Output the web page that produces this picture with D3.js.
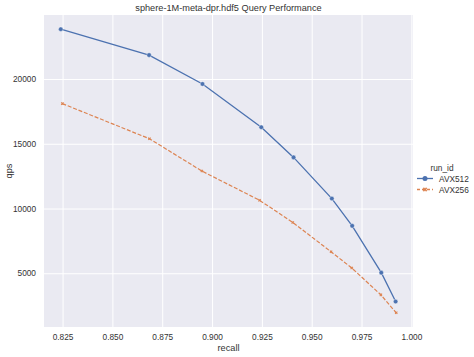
<!DOCTYPE html>
<html><head><meta charset="utf-8">
<script src="https://cdn.jsdelivr.net/npm/d3@7"></script>
<style>body{margin:0;background:#fff}text{font-family:"Liberation Sans",Arial,sans-serif}</style>
</head><body>
<svg id="c" width="474" height="357"></svg>
<script>
const seriesNames = ["AVX512", "AVX256"];
const recallAVX512 = [0.8241, 0.8684, 0.8952, 0.9247, 0.9409, 0.9601, 0.9703, 0.9849, 0.9921];
const qpsAVX512 = [23846, 21846, 19615, 16277, 13946, 10769, 8662, 5046, 2815];
const recallAVX256 = [0.8249, 0.8686, 0.8949, 0.9238, 0.9405, 0.9597, 0.9701, 0.9847, 0.9924];
const qpsAVX256 = [18100, 15385, 12892, 10638, 8923, 6662, 5408, 3331, 1946];
const xTicks = [0.825, 0.850, 0.875, 0.900, 0.925, 0.950, 0.975, 1.000];
const yTicks = [5000, 10000, 15000, 20000];
const colors = ["#4c72b0", "#dd8452"];

const svg = d3.select("#c");
const m = {l: 44, r: 413, t: 15, b: 327};
const allX = recallAVX512.concat(recallAVX256), allY = qpsAVX512.concat(qpsAVX256);
const [x0, x1] = d3.extent(allX), [y0, y1] = d3.extent(allY);
const px = (x1 - x0) * 0.05, py = (y1 - y0) * 0.05;
const x = d3.scaleLinear().domain([x0 - px, x1 + px]).range([m.l, m.r]);
const y = d3.scaleLinear().domain([y0 - py, y1 + py]).range([m.b, m.t]);

svg.append("rect").attr("x", m.l).attr("y", m.t).attr("width", m.r - m.l).attr("height", m.b - m.t).attr("fill", "#eaeaf2");
const gx = svg.append("g").attr("transform", `translate(0,${m.b})`)
  .call(d3.axisBottom(x).tickValues(xTicks).tickFormat(d3.format(".3f")).tickSize(-(m.b - m.t)).tickPadding(7));
const gy = svg.append("g").attr("transform", `translate(${m.l},0)`)
  .call(d3.axisLeft(y).tickValues(yTicks).tickFormat(d => d).tickSize(-(m.r - m.l)).tickPadding(8));
[gx, gy].forEach(g => {
  g.select(".domain").remove();
  g.selectAll(".tick line").attr("stroke", "#fff").attr("stroke-width", 1);
  g.selectAll(".tick text").attr("fill", "#333").attr("font-size", 8.3);
});

const series = [
  {name: seriesNames[0], xs: recallAVX512, ys: qpsAVX512, color: colors[0], dash: null},
  {name: seriesNames[1], xs: recallAVX256, ys: qpsAVX256, color: colors[1], dash: "4,1.8"}
];
const line = d3.line().x(d => x(d[0])).y(d => y(d[1]));
series.forEach((s, i) => {
  const pts = s.xs.map((v, k) => [v, s.ys[k]]);
  svg.append("path").datum(pts).attr("d", line).attr("fill", "none")
    .attr("stroke", s.color).attr("stroke-width", i === 0 ? 1.3 : 1.2).attr("stroke-dasharray", s.dash);
  const g = svg.append("g");
  if (i === 0) {
    g.selectAll("circle").data(pts).join("circle").attr("cx", d => x(d[0])).attr("cy", d => y(d[1]))
      .attr("r", 2.3).attr("fill", s.color).attr("stroke", "#fff").attr("stroke-width", 0.4);
  } else {
    g.selectAll("path").data(pts).join("path")
      .attr("transform", d => `translate(${x(d[0])},${y(d[1])}) rotate(45)`)
      .attr("d", d3.symbol(d3.symbolCross, 6)).attr("fill", s.color);
  }
});

svg.append("text").attr("x", (m.l + m.r) / 2).attr("y", 11).attr("text-anchor", "middle")
  .attr("font-size", 9.2).attr("fill", "#333").text("sphere-1M-meta-dpr.hdf5 Query Performance");
svg.append("text").attr("x", (m.l + m.r) / 2).attr("y", 351).attr("text-anchor", "middle")
  .attr("font-size", 9.2).attr("fill", "#333").text("recall");
svg.append("text").attr("transform", `translate(12,${(m.t + m.b) / 2}) rotate(-90)`).attr("text-anchor", "middle")
  .attr("font-size", 9.2).attr("fill", "#333").text("qps");

const lg = svg.append("g");
lg.append("text").attr("x", 442).attr("y", 171).attr("text-anchor", "middle").attr("font-size", 8.3).attr("fill", "#333").text("run_id");
series.forEach((s, i) => {
  const yy = 178.5 + i * 11;
  lg.append("line").attr("x1", 417).attr("x2", 433).attr("y1", yy).attr("y2", yy)
    .attr("stroke", s.color).attr("stroke-width", 1.3).attr("stroke-dasharray", s.dash ? "3,2" : null);
  if (i === 0) lg.append("circle").attr("cx", 425).attr("cy", yy).attr("r", 2.5).attr("fill", s.color);
  else lg.append("path").attr("transform", `translate(425,${yy}) rotate(45)`).attr("d", d3.symbol(d3.symbolCross, 12)).attr("fill", s.color);
  lg.append("text").attr("x", 439).attr("y", yy + 3).attr("font-size", 8.3).attr("fill", "#333").text(s.name);
});
</script>
</body></html>
